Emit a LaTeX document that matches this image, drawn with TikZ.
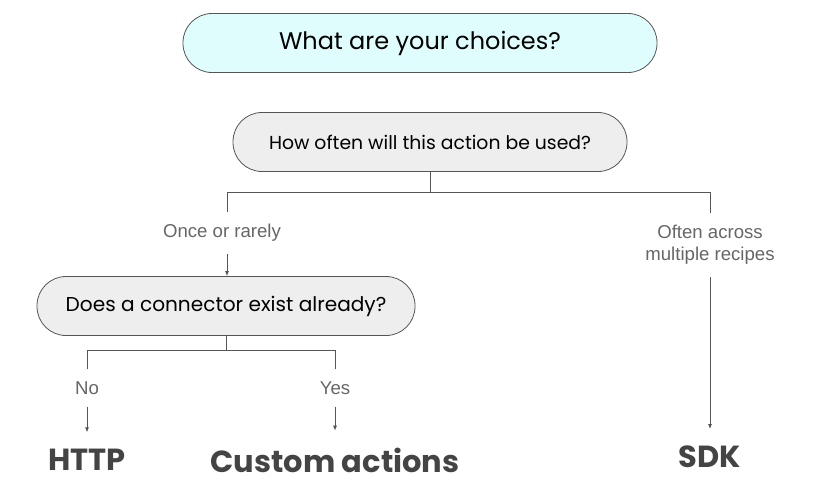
\documentclass[tikz,border=0pt]{standalone}
\usepackage{fontspec}
\setmainfont{Poppins}
\newfontfamily\lblfont{Liberation Sans}
\usetikzlibrary{positioning,arrows.meta}

\definecolor{linegray}{HTML}{555555}
\definecolor{textgray}{HTML}{666666}
\definecolor{resgray}{HTML}{444444}
\definecolor{boxgray}{HTML}{EEEEEE}
\definecolor{boxcyan}{HTML}{DFFDFD}

\tikzset{
  pill/.style={draw=linegray, line width=0.8pt, rounded corners=29pt,
    minimum height=59pt, inner sep=0pt, text=black},
  choice/.style={font=\lblfont\fontsize{18.6}{22}\selectfont, text=textgray,
    align=center, inner sep=12.5pt},
  result/.style={font=\bfseries\fontsize{30.5}{34}\selectfont, text=resgray,
    inner sep=0pt, outer sep=17pt},
  wire/.style={draw=linegray, line width=0.8pt},
  arr/.style={wire, -{Latex[length=5pt,width=4pt]}}
}

\begin{document}
\begin{tikzpicture}[x=1pt,y=-1pt,on grid]
\useasboundingbox (0,0) rectangle (824,488);
\node[pill, fill=boxcyan, minimum width=474pt, font=\fontsize{24}{28}\selectfont] (choices) at (420,43) {What are your choices?};
\node[pill, fill=boxgray, minimum width=394pt, font=\fontsize{18.8}{22}\selectfont] (often) [below right=99pt and 10pt of choices] {How often will this action be used?};
\node[choice] (rarelbl) [below left=91pt and 208pt of often] {Once or rarely};
\node[choice] (acrosslbl) [below right=103pt and 280pt of often] {Often across\\multiple recipes};
\node[pill, fill=boxgray, minimum width=378pt, font=\fontsize{20.1}{24}\selectfont] (connector) [below right=73pt and 4pt of rarelbl] {Does a connector exist already?};
\node[choice] (nolbl) [below left=82pt and 139pt of connector] {No};
\node[choice] (yeslbl) [below right=82pt and 109pt of connector] {Yes};
\node[result] (http) [below=72pt of nolbl] {HTTP};
\node[result] (custom) [below=72pt of yeslbl] {Custom actions};
\node[result] (sdk) [below=212pt of acrosslbl] {SDK};

\coordinate[below=50pt of often] (fork1);
\coordinate[below=44pt of connector] (fork2);

\draw[wire] (often.south) -- (fork1) -| ([xshift=5pt]rarelbl.north);
\draw[wire] (fork1) -| (acrosslbl.north);
\draw[arr] ([xshift=5pt]rarelbl.south) -- ([xshift=5pt]rarelbl.south |- connector.north);
\draw[arr] (acrosslbl.south) -- (sdk.north);
\draw[wire] (connector.south) -- (fork2) -| (nolbl.north);
\draw[wire] (fork2) -| (yeslbl.north);
\draw[arr] (nolbl.south) -- (http.north);
\draw[arr] (yeslbl.south) -- (custom.north);
\end{tikzpicture}
\end{document}
